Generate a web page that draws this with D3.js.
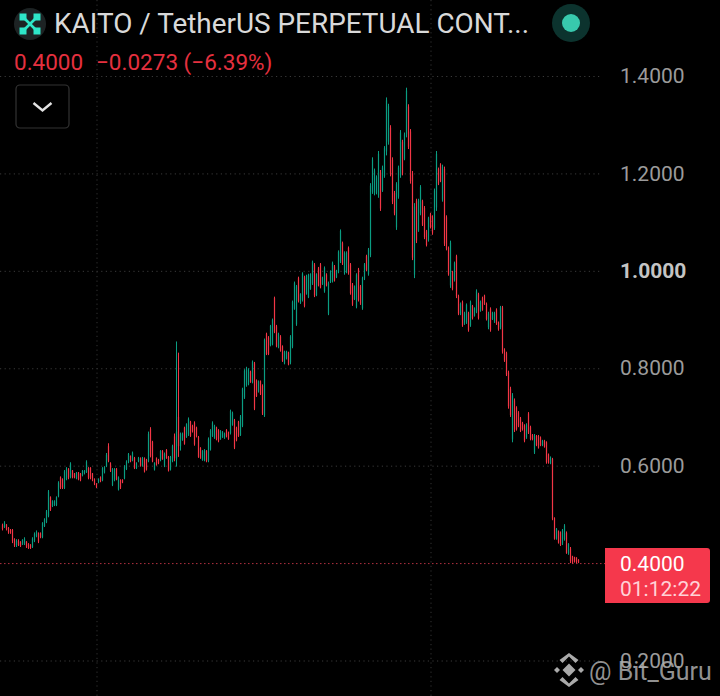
<!DOCTYPE html>
<html>
<head>
<meta charset="utf-8">
<script src="https://cdn.jsdelivr.net/npm/d3@7/dist/d3.min.js"></script>
<style>
html,body{margin:0;padding:0;background:#000;}
svg{display:block;}
text{font-family:Roboto,"Noto Sans",sans-serif;}
</style>
</head>
<body>
<svg id="chart" width="720" height="696"></svg>
<script>
const titleText = "KAITO / TetherUS PERPETUAL CONT...";
const lastPrice = "0.4000";
const changeText = "\u22120.0273 (\u22126.39%)";
const countdown = "01:12:22";
const watermark = "@ Bit_Guru";
const tickValues = [1.4, 1.2, 1.0, 0.8, 0.6, 0.4, 0.2];
const currentPrice = 0.4;

const highs = [
.481,.486,.480,.474,.470,.470,.451,.449,.449,.445,
.449,.453,.445,.441,.439,.453,.463,.467,.463,.463,
.484,.492,.509,.550,.537,.529,.529,.537,.568,.578,
.574,.591,.597,.595,.607,.591,.585,.587,.587,.585,
.591,.591,.611,.597,.597,.585,.574,.564,.574,.578,
.597,.599,.626,.646,.607,.595,.595,.595,.578,.572,
.572,.601,.611,.626,.621,.629,.618,.607,.618,.617,
.618,.617,.614,.670,.679,.651,.607,.617,.614,.632,
.632,.627,.634,.620,.620,.643,.666,.855,.832,.668,
.668,.680,.687,.699,.692,.684,.691,.680,.661,.638,
.632,.634,.632,.658,.675,.691,.684,.680,.675,.673,
.671,.668,.675,.670,.715,.711,.696,.680,.692,.704,
.760,.798,.803,.800,.795,.816,.813,.777,.775,.775,
.767,.861,.873,.866,.889,.902,.947,.889,.873,.868,
.847,.836,.836,.834,.868,.939,.978,.971,.988,.954,
.997,.990,.992,.994,.995,1.021,1.016,.995,1.008,1.016,
.988,1.009,.995,.978,1.001,1.019,1.012,1.002,1.042,1.085,
1.060,1.040,1.040,1.050,1.016,.975,.970,.995,1.006,.971,
.988,1.016,1.033,1.047,1.180,1.233,1.210,1.196,1.246,1.207,
1.216,1.256,1.356,1.343,1.299,1.233,1.164,1.182,1.216,1.289,
1.269,1.284,1.376,1.342,1.291,1.205,1.139,1.148,1.148,1.176,
1.146,1.133,1.084,1.111,1.119,1.114,1.169,1.246,1.212,1.221,
1.218,1.214,1.114,1.050,1.062,1.000,1.019,1.033,.951,.935,
.939,.916,.933,.916,.939,.930,.925,.962,.955,.939,
.947,.951,.935,.916,.925,.916,.916,.923,.896,.928,
.928,.841,.834,.795,.762,.749,.738,.722,.712,.700,
.690,.685,.687,.710,.682,.665,.665,.663,.663,.660,
.653,.653,.650,.625,.619,.616,.494,.472,.467,.465,
.470,.480,.465,.441,.433,.415,.413,.412,.408];

const lows = [
.467,.472,.467,.460,.460,.441,.433,.433,.435,.433,
.437,.437,.431,.429,.429,.431,.443,.453,.441,.451,
.451,.474,.482,.494,.507,.515,.517,.517,.535,.552,
.552,.552,.570,.572,.574,.574,.574,.572,.570,.568,
.578,.582,.585,.572,.572,.568,.560,.554,.564,.566,
.568,.584,.597,.607,.587,.558,.568,.570,.549,.552,
.564,.572,.591,.605,.607,.609,.593,.593,.607,.598,
.598,.586,.590,.607,.617,.607,.590,.600,.603,.609,
.612,.597,.614,.588,.590,.607,.609,.598,.618,.631,
.651,.643,.657,.661,.659,.668,.641,.658,.616,.614,
.610,.609,.607,.607,.631,.659,.655,.652,.648,.653,
.657,.655,.658,.653,.664,.682,.634,.650,.659,.661,
.679,.737,.762,.765,.770,.769,.714,.741,.750,.745,
.704,.700,.827,.827,.845,.847,.872,.843,.841,.834,
.813,.808,.818,.806,.808,.841,.920,.887,.935,.932,
.937,.925,.951,.944,.961,.971,.946,.948,.968,.964,
.971,.955,.968,.909,.975,.976,.978,.985,.995,1.016,
1.012,.992,.995,.992,.951,.928,.940,.923,.937,.930,
.920,.981,.999,.990,1.028,1.158,1.155,1.157,1.150,1.123,
1.162,1.191,1.237,1.259,1.194,1.137,1.114,1.084,1.148,1.191,
1.196,1.227,1.274,1.250,1.179,1.022,.985,1.057,1.080,1.114,
1.092,1.065,1.050,1.060,1.087,1.074,1.084,1.123,1.176,1.182,
1.142,1.051,1.042,.990,.965,.960,.978,.944,.909,.909,
.885,.889,.891,.875,.885,.900,.906,.913,.900,.916,
.918,.930,.898,.880,.875,.899,.893,.889,.877,.880,
.830,.813,.784,.717,.700,.648,.669,.672,.679,.669,
.672,.648,.655,.665,.652,.652,.624,.640,.635,.640,
.640,.637,.604,.604,.603,.488,.448,.448,.440,.435,
.437,.446,.419,.417,.400,.399,.401,.400,.400];

const opens = [
.478,.474,.479,.472,.468,.468,.449,.436,.446,.443,
.438,.440,.444,.439,.437,.433,.446,.455,.462,.461,
.453,.476,.484,.497,.535,.517,.519,.519,.537,.576,
.572,.554,.572,.593,.577,.590,.584,.574,.586,.583,
.580,.584,.587,.595,.595,.584,.572,.563,.566,.576,
.570,.586,.599,.640,.605,.560,.570,.594,.551,.570,
.571,.574,.593,.607,.620,.611,.616,.595,.609,.615,
.600,.615,.612,.610,.675,.649,.592,.615,.612,.611,
.630,.600,.632,.618,.592,.609,.660,.615,.700,.640,
.653,.678,.659,.664,.690,.682,.688,.678,.659,.636,
.612,.611,.630,.610,.633,.661,.657,.678,.673,.655,
.659,.657,.673,.668,.667,.684,.693,.678,.690,.663,
.682,.740,.765,.767,.793,.771,.810,.775,.752,.773,
.764,.703,.870,.863,.847,.849,.944,.886,.843,.865,
.845,.810,.820,.832,.812,.844,.922,.890,.985,.934,
.940,.987,.953,.946,.963,.974,1.013,.950,1.005,1.013,
.973,.958,.992,.912,.977,.978,1.009,.987,.998,1.019,
1.057,.995,.997,1.047,1.013,.972,.942,.926,1.003,.968,
.923,.984,1.030,.993,1.032,1.162,1.158,1.160,1.155,1.202,
1.165,1.195,1.245,1.265,1.294,1.228,1.160,1.089,1.152,1.196,
1.265,1.230,1.280,1.337,1.286,1.200,.992,1.143,1.083,1.118,
1.143,1.129,1.081,1.063,1.116,1.110,1.088,1.130,1.209,1.218,
1.146,1.209,1.110,1.047,.970,.998,.981,1.030,.948,.912,
.936,.892,.894,.913,.888,.928,.908,.916,.952,.918,
.944,.949,.932,.884,.922,.901,.896,.920,.894,.884,
.925,.838,.831,.791,.758,.654,.734,.719,.709,.697,
.688,.682,.658,.707,.679,.663,.627,.661,.661,.658,
.642,.651,.648,.623,.605,.614,.492,.450,.465,.463,
.440,.449,.462,.420,.430,.414,.412,.411,.407];

const closes = [
.470,.482,.470,.463,.462,.446,.436,.446,.437,.435,
.447,.450,.434,.431,.431,.450,.460,.464,.444,.453,
.482,.489,.506,.547,.510,.527,.527,.535,.565,.555,
.555,.588,.594,.575,.604,.576,.576,.585,.572,.570,
.589,.590,.608,.575,.575,.571,.563,.556,.572,.568,
.595,.597,.622,.610,.590,.592,.593,.572,.576,.555,
.565,.598,.608,.624,.609,.627,.595,.605,.616,.600,
.616,.588,.592,.665,.620,.609,.605,.602,.605,.630,
.614,.624,.616,.590,.618,.640,.615,.670,.640,.665,
.666,.645,.685,.696,.661,.670,.644,.660,.618,.616,
.630,.632,.609,.655,.672,.688,.681,.654,.650,.671,
.669,.666,.660,.655,.712,.708,.637,.652,.661,.701,
.757,.795,.800,.797,.772,.813,.717,.743,.773,.747,
.707,.858,.829,.829,.887,.899,.875,.845,.870,.836,
.815,.834,.834,.808,.865,.936,.975,.968,.938,.952,
.994,.928,.990,.992,.993,1.018,.949,.993,.970,.966,
.986,1.006,.970,.975,.999,1.016,.980,1.000,1.039,1.082,
1.015,1.037,1.037,.995,.954,.931,.968,.992,.940,.933,
.985,1.013,1.002,1.044,1.175,1.228,1.206,1.192,1.240,1.128,
1.212,1.252,1.350,1.338,1.199,1.142,1.118,1.178,1.212,1.284,
1.200,1.280,1.370,1.255,1.184,1.027,1.132,1.062,1.145,1.172,
1.095,1.069,1.053,1.108,1.090,1.078,1.165,1.240,1.179,1.185,
1.214,1.056,1.046,.993,1.058,.963,1.016,.948,.912,.932,
.888,.913,.930,.878,.936,.903,.923,.958,.903,.936,
.920,.932,.901,.912,.878,.914,.913,.892,.880,.925,
.834,.816,.787,.722,.704,.744,.673,.675,.682,.672,
.675,.651,.684,.668,.655,.654,.662,.642,.637,.642,
.651,.639,.607,.606,.617,.491,.450,.470,.442,.437,
.467,.477,.421,.439,.404,.401,.403,.402,.401];

const UP = "#0a9d82", DOWN = "#f23645";
const svg = d3.select("#chart");
svg.append("rect").attr("width",720).attr("height",696).attr("fill","#000");

const y = d3.scaleLinear().domain([0.2, 1.4]).range([660.5, 76]);
const x = d3.scaleLinear().domain([0, 290]).range([0, 580]);

// grid
const grid = svg.append("g");
grid.selectAll("line.h").data(tickValues.filter(t => t !== currentPrice)).join("line")
  .attr("class","h").attr("x1",0).attr("x2",602)
  .attr("y1",d=>y(d)+.5).attr("y2",d=>y(d)+.5)
  .attr("stroke","#3a3a3a").attr("stroke-width",1).attr("stroke-dasharray","1.2 3.4");
grid.selectAll("line.v").data([97, 431]).join("line")
  .attr("class","v").attr("x1",d=>d).attr("x2",d=>d).attr("y1",0).attr("y2",696)
  .attr("stroke","#333").attr("stroke-width",1).attr("stroke-dasharray","1.2 3.4");

// price line
svg.append("line").attr("x1",0).attr("x2",605).attr("y1",y(currentPrice)+.5).attr("y2",y(currentPrice)+.5)
  .attr("stroke","#b03040").attr("stroke-width",1).attr("stroke-dasharray","1.5 2.5");

// candles
const bars = d3.range(highs.length).map(i => ({i:i+1,h:highs[i],l:lows[i],o:opens[i],c:closes[i]}));
const g = svg.append("g");
g.selectAll("line.w").data(bars).join("line").attr("class","w")
  .attr("x1",d=>x(d.i)+.5).attr("x2",d=>x(d.i)+.5).attr("y1",d=>y(d.h)).attr("y2",d=>y(d.l))
  .attr("stroke",d=>d.c>=d.o?UP:DOWN).attr("stroke-width",1);
g.selectAll("rect.b").data(bars).join("rect").attr("class","b")
  .attr("x",d=>x(d.i)-.1).attr("width",1.2)
  .attr("y",d=>y(Math.max(d.o,d.c))).attr("height",d=>Math.max(.5,Math.abs(y(d.o)-y(d.c))))
  .attr("fill",d=>d.c>=d.o?UP:DOWN);

// y axis labels
const axis = d3.axisRight(y).tickValues(tickValues.filter(t => t !== currentPrice)).tickFormat(d3.format(".4f")).tickSize(0).tickPadding(0);
const ag = svg.append("g").attr("transform","translate(620,0)").call(axis);
ag.select(".domain").remove();
ag.selectAll("text").attr("fill",d=>d===1?"#c4c4c4":"#9b9b9b")
  .attr("font-weight",d=>d===1?700:400)
  .style("font-size","21px").style("font-family","Roboto");

// price tag
const tag = svg.append("g");
tag.append("path").attr("d","M605,548H707a3,3 0 0 1 3,3V600a3,3 0 0 1 -3,3H605Z").attr("fill","#f5384c");
tag.append("text").attr("x",620).attr("y",571).attr("fill","#fff").attr("font-size",21).text(lastPrice);
tag.append("text").attr("x",620).attr("y",596).attr("fill","#ffd2d7").attr("font-size",21).text(countdown);

// header
const hd = svg.append("g");
hd.append("circle").attr("cx",30).attr("cy",24).attr("r",16).attr("fill","#1d2324");
const ic = hd.append("g").attr("fill","#2ee6c8").attr("stroke","#2ee6c8");
[[-7,-7],[7,-7],[-7,7],[7,7]].forEach(p=>{
  ic.append("rect").attr("x",30+p[0]-3.5).attr("y",24+p[1]-3.5).attr("width",7).attr("height",7).attr("stroke","none");
  ic.append("line").attr("x1",30).attr("y1",24).attr("x2",30+p[0]).attr("y2",24+p[1]).attr("stroke-width",2.6);
});
hd.append("text").attr("x",54).attr("y",32.5).attr("fill","#d9d9d9").attr("font-size",27.9).text(titleText);
hd.append("circle").attr("cx",571).attr("cy",23).attr("r",19).attr("fill","#0c332e");
hd.append("circle").attr("cx",571).attr("cy",23).attr("r",9).attr("fill","#38c9ad");

const sub = hd.append("text").attr("y",70).attr("fill","#e5303f").attr("font-size",22.5);
sub.append("tspan").attr("x",14).text(lastPrice);
sub.append("tspan").attr("x",96).text(changeText);

hd.append("rect").attr("x",16).attr("y",85).attr("width",53).attr("height",43).attr("rx",4)
  .attr("fill","#000").attr("stroke","#333").attr("stroke-width",1.2);
hd.append("path").attr("d","M33.5,103 L42.5,110.5 L51.5,103").attr("fill","none").attr("stroke","#e2e2e2").attr("stroke-width",2.4);

// watermark
const wm = svg.append("g").attr("fill","#bdbdbd").attr("opacity",.9);
[[569,670,6.5],[557,670,3],[581,670,3]].forEach(p=>{
  wm.append("path").attr("d",`M${p[0]},${p[1]-p[2]}L${p[0]+p[2]},${p[1]}L${p[0]},${p[1]+p[2]}L${p[0]-p[2]},${p[1]}Z`);
});
wm.append("path").attr("d","M569,656.5L562.5,663L559.5,660L569,653L578.5,660L575.5,663Z");
wm.append("path").attr("d","M569,683.5L562.5,677L559.5,680L569,687L578.5,680L575.5,677Z");
svg.append("text").attr("x",589).attr("y",680).attr("fill","#adadad").attr("fill-opacity",.85).attr("font-size",25).text(watermark);
</script>
</body>
</html>
